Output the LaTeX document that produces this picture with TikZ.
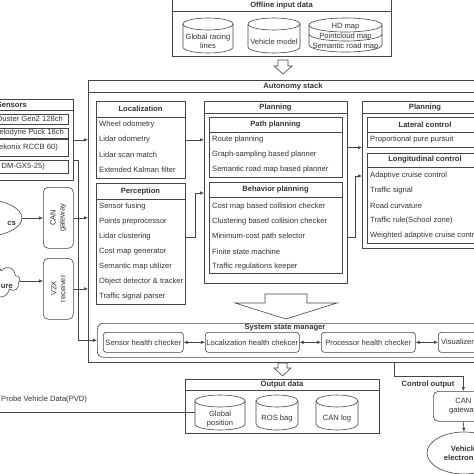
\documentclass[tikz,border=0pt]{standalone}
\usepackage{fontspec}
\setmainfont{Liberation Sans}
\usetikzlibrary{arrows.meta,shapes.geometric,shapes.symbols,calc}
\definecolor{lc}{gray}{0.27}
\definecolor{tc}{gray}{0.2}
\newcommand\fs{\fontsize{7.6}{9}\selectfont}
\newcommand\mydrum[5]{%
 \pgfmathsetmacro\rxx{(#3-#1)/2}%
 \pgfmathsetmacro\ya{#2+#5}%
 \pgfmathsetmacro\yb{#4-#5}%
 \draw[ln, fill=white] (#1,\ya) -- (#1,\yb) arc[start angle=180, end angle=360, x radius=\rxx pt, y radius=#5 pt] -- (#3,\ya) arc[start angle=0, end angle=180, x radius=\rxx pt, y radius=#5 pt] -- cycle;
 \draw[ln] (#1,\ya) arc[start angle=180, end angle=360, x radius=\rxx pt, y radius=#5 pt];
}
\begin{document}
\begin{tikzpicture}[x=1pt,y=-1pt,
  ln/.style={draw=lc, line width=0.6pt},
  box/.style={ln, fill=white, inner sep=0pt, anchor=north west},
  rbox/.style={box, rounded corners=3pt},
  ttl/.style={font=\fs\bfseries, text=tc, inner sep=0pt},
  txt/.style={font=\fs, text=tc, inner sep=0pt, align=center},
  itm/.style={font=\fs, text=tc, inner sep=0pt, anchor=west},
  arr/.style={ln, -{Latex[length=4pt,width=3.5pt]}},
  darr/.style={ln, {Latex[length=4pt,width=3.5pt]}-{Latex[length=4pt,width=3.5pt]}},
  hollow/.style={ln, fill=white, line join=miter}]
\useasboundingbox (0,0) rectangle (474,474);
\fill[white] (0,0) rectangle (474,474);
\clip (0,0) rectangle (474,474);

% ---------- Offline input data
\node[box, minimum width=219pt, minimum height=60pt] (off) at (172,-4) {};
\draw[ln] (off.north west) ++(0,15) -- ++(219,0);
\node[ttl] (offt) at (281.5,5.5) {Offline input data};
\mydrum{183}{18}{233}{53}{6}
\node[txt] (grl) at (208,41.5) {Global racing\\lines};
\mydrum{248}{18}{300}{53}{6}
\node[txt] (vm) at (274,42) {Vehicle model};
\mydrum{309}{18}{382}{52}{7}
\draw[ln] (309,34) arc[start angle=180, end angle=360, x radius=36.5pt, y radius=7pt];
\node[txt] (hd) at (345.5,26.5) {HD map};
\node[txt] (pc) at (345.5,36.5) {Pointcloud map};
\node[txt] (srm) at (345.5,46.5) {Semantic road map};
\draw[hollow] (278,60) -- (288,60) -- (288,66) -- (292,66) -- (283,74) -- (274,66) -- (278,66) -- cycle;

% ---------- Autonomy stack
\node[box, minimum width=420pt, minimum height=282pt] (auto) at (88,80) {};
\draw[ln] (auto.north west) ++(0,12) -- ++(420,0);
\node[ttl] (autot) at (293,86.5) {Autonomy stack};

% Localization
\node[box, minimum width=89pt, minimum height=77pt] (loc) at (96,101) {};
\draw[ln] (loc.north west) ++(0,16) -- ++(89,0);
\node[ttl] (loct) at (140.5,109) {Localization};
\node[itm] (l1) at (99,125) {Wheel odometry};
\node[itm] (l2) at (99,140) {Lidar odometry};
\node[itm] (l3) at (99,155) {Lidar scan match};
\node[itm] (l4) at (99,170) {Extended Kalman filter};

% Perception
\node[box, minimum width=89pt, minimum height=121pt] (perc) at (96,183) {};
\draw[ln] (perc.north west) ++(0,16) -- ++(89,0);
\node[ttl] (perct) at (140.5,191.5) {Perception};
\node[itm] (p1) at (99,207) {Sensor fusing};
\node[itm] (p2) at (99,222) {Points preprocessor};
\node[itm] (p3) at (99,237) {Lidar clustering};
\node[itm] (p4) at (99,252) {Cost map generator};
\node[itm] (p5) at (99,267) {Semantic map utilizer};
\node[itm] (p6) at (99,282) {Object detector \& tracker};
\node[itm] (p7) at (99,297) {Traffic signal parser};

% Planning (middle)
\node[box, minimum width=143pt, minimum height=182pt] (plan) at (204,101) {};
\draw[ln] (plan.north west) ++(0,12) -- ++(143,0);
\node[ttl] (plant) at (275.5,107.5) {Planning};
\node[box, minimum width=133pt, minimum height=60pt] (pp) at (209,117) {};
\draw[ln] (pp.north west) ++(0,15) -- ++(133,0);
\node[ttl] (ppt) at (275.5,124.5) {Path planning};
\node[itm] (q1) at (212,140) {Route planning};
\node[itm] (q2) at (212,155) {Graph-sampling based planner};
\node[itm] (q3) at (212,170) {Semantic road map based planner};
\node[box, minimum width=133pt, minimum height=91pt] (bp) at (209,182) {};
\draw[ln] (bp.north west) ++(0,15) -- ++(133,0);
\node[ttl] (bpt) at (275.5,189.5) {Behavior planning};
\node[itm] (b1) at (212,207) {Cost map based collision checker};
\node[itm] (b2) at (212,222) {Clustering based collision checker};
\node[itm] (b3) at (212,237) {Minimum-cost path selector};
\node[itm] (b4) at (212,252) {Finite state machine};
\node[itm] (b5) at (212,267) {Traffic regulations keeper};

% Planning (control)
\node[box, minimum width=126pt, minimum height=147pt] (ctrl) at (362,101) {};
\draw[ln] (ctrl.north west) ++(0,12) -- ++(126,0);
\node[ttl] (ctrlt) at (425,107.5) {Planning};
\node[box, minimum width=116pt, minimum height=30pt] (lat) at (367,117) {};
\draw[ln] (lat.north west) ++(0,15) -- ++(116,0);
\node[ttl] (latt) at (425,124.5) {Lateral control};
\node[itm] (c1) at (370,140) {Proportional pure pursuit};
\node[box, minimum width=116pt, minimum height=90pt] (lon) at (367,153) {};
\draw[ln] (lon.north west) ++(0,14) -- ++(116,0);
\node[ttl] (lont) at (425,160) {Longitudinal control};
\node[itm] (d1) at (370,176) {Adaptive cruise control};
\node[itm] (d2) at (370,191) {Traffic signal};
\node[itm] (d3) at (370,206) {Road curvature};
\node[itm] (d4) at (370,221) {Traffic rule(School zone)};
\node[itm] (d5) at (370,236) {Weighted adaptive cruise control};

% System state manager
\node[box, rounded corners=6pt, minimum width=420pt, minimum height=34pt] (ssm) at (97,323) {};
\node[ttl] (ssmt) at (285,327.5) {System state manager};
\node[rbox, minimum width=80pt, minimum height=20pt] (shc) at (103,332) {};
\node[txt] at (shc.center) {Sensor health checker};
\node[rbox, minimum width=94pt, minimum height=20pt] (lhc) at (205,332) {};
\node[txt] at (lhc.center) {Localization health chekcer};
\node[rbox, minimum width=94pt, minimum height=20pt] (phc) at (321,332) {};
\node[txt] at (phc.center) {Processor health checker};
\node[rbox, minimum width=50pt, minimum height=20pt] (vis) at (438,332) {};
\node[itm] at (441,342) {Visualizer};
\draw[darr] (shc.east) -- (lhc.west);
\draw[darr] (lhc.east) -- (phc.west);
\draw[darr] (phc.east) -- (vis.west);

\draw[hollow] (265,294) -- (307,294) -- (307,303) -- (337,303) -- (286,319) -- (235,303) -- (265,303) -- cycle;

% ---------- Sensors
\node[box, minimum width=125pt, minimum height=81pt] (sens) at (-52,99) {};
\draw[ln] (sens.north west) ++(0,11) -- ++(125,0);
\node[ttl, anchor=east] (senst) at (27,105) {Sensors};
\node[box, minimum width=128pt, minimum height=10pt] (s1) at (-60,114) {};
\node[itm, anchor=east] at (63,119) {Ouster Gen2 128ch};
\node[box, minimum width=128pt, minimum height=10pt] (s2) at (-60,128) {};
\node[itm, anchor=east] at (64,133) {Velodyne Puck 16ch};
\node[box, minimum width=128pt, minimum height=17pt] (s3) at (-60,139) {};
\node[itm, anchor=east] at (58,147.5) {ekonix RCCB 60)};
\node[box, minimum width=128pt, minimum height=13pt] (s4) at (-60,160) {};
\node[itm, anchor=east] at (45,167) {DM-GX5-25)};

% CAN gateway (left), V2X receiver
\node[box, rounded corners=5pt, minimum width=30pt, minimum height=61pt] (cgl) at (43,187) {};
\node[txt, rotate=90] at (cgl.center) {CAN\\gateway};
\node[box, rounded corners=5pt, minimum width=30pt, minimum height=61pt] (v2x) at (43,258) {};
\node[txt, rotate=90] at (v2x.center) {V2X\\receiver};
\node[ellipse, ln, fill=white, minimum width=84pt, minimum height=38pt, inner sep=0] (vel) at (-20,218) {};
\node[ttl, anchor=east] at (16,223) {cs};
\node[cloud, ln, fill=white, cloud puffs=9, minimum width=56pt, minimum height=34pt, inner sep=0] (inf) at (-8,281) {};
\node[ttl, anchor=east] at (13,286) {ure};

% connectors (left)
\draw[arr] (sens.east) -- (sens.east -| auto.west);
\draw[arr] (vel.east) -- (vel.east -| cgl.west);
\draw[arr] (cgl.east) -- (cgl.east -| auto.west);
\draw[arr] (inf.east) -- (inf.east -| v2x.west);
\draw[arr] (v2x.east) -- (v2x.east -| auto.west);
\draw[arr] (sens.east |- s4.north) -- ++(5,0) |- (ssm.west);

% connectors (stack)
\coordinate (bpin) at (204,193);
\draw[arr] (loc.east) -- (loc.east -| plan.west);
\draw[arr] (p3 -| perc.east) -- ++(10,0) |- (bpin);
\draw[arr] (plan.east |- lat.south) -- (ctrl.west |- lat.south);
\draw[arr] (b3 -| plan.east) -- ++(8,0) |- (d1 -| ctrl.west);

% ---------- Output data
\draw[hollow] (278,363) -- (287,363) -- (287,368) -- (291,368) -- (282.5,376) -- (274,368) -- (278,368) -- cycle;
\node[box, minimum width=194pt, minimum height=54pt] (out) at (185,379) {};
\draw[ln] (out.north west) ++(0,11) -- ++(194,0);
\node[ttl] (outt) at (282,384.5) {Output data};
\mydrum{195}{395}{245}{430}{6}
\node[inner sep=0, minimum width=50pt, minimum height=35pt] (gpc) at (220,412.5) {};
\node[txt] (gp) at (220,419.5) {Global\\position};
\mydrum{256}{395}{298}{430}{6}
\node[txt] (ros) at (277,419) {ROS bag};
\mydrum{316}{395}{358}{430}{6}
\node[txt] (canlog) at (337,419) {CAN log};
\coordinate (pvd) at (-5,412.5);
\draw[ln] (pvd) -- (gpc.west);
\node[itm] (pvdt) at (1,400) {Probe Vehicle Data(PVD)};

% ---------- Control output
\node[ttl] (cot) at (428,385) {Control output};
\node[box, rounded corners=5pt, minimum width=60pt, minimum height=30pt] (cgw) at (433,391) {};
\node[txt] at (cgw.center) {CAN\\gateway};
\node[ellipse, ln, fill=white, minimum width=74pt, minimum height=42pt, inner sep=0] (veh) at (464,453) {};
\node[txt, font=\fs\bfseries] at (veh.center) {Vehicle\\electronics};
\coordinate (cout) at (394,362);
\draw[arr] (cout) -- ++(0,14) -| (cgw.north);
\draw[arr] (cgw.south) -- (veh.north);
\end{tikzpicture}
\end{document}
